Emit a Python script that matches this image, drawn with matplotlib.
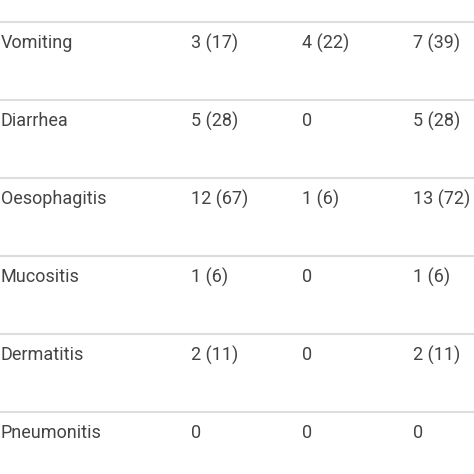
import matplotlib.pyplot as plt

events = ["Vomiting", "Diarrhea", "Oesophagitis", "Mucositis", "Dermatitis", "Pneumonitis"]
col1 = ["3 (17)", "5 (28)", "12 (67)", "1 (6)", "2 (11)", "0"]
col2 = ["4 (22)", "0", "1 (6)", "0", "0", "0"]
col3 = ["7 (39)", "5 (28)", "13 (72)", "1 (6)", "2 (11)", "0"]

W = H = 474
fig = plt.figure(figsize=(4.74, 4.74), dpi=100)
ax = fig.add_axes([0, 0, 1, 1])
ax.set_xlim(0, W)
ax.set_ylim(H, 0)
ax.axis("off")

txt = dict(fontsize=13, color="#444444", family="Roboto", va="center", ha="left")
for i, name in enumerate(events):
    top = 22 + 78 * i
    ax.axhline(top, color="#dddddd", lw=1.5)
    y = top + 21
    ax.text(1, y, name, **txt)
    ax.text(191, y, col1[i], **txt)
    ax.text(302, y, col2[i], **txt)
    ax.text(413, y, col3[i], **txt)

fig.savefig("out.png", dpi=100)
